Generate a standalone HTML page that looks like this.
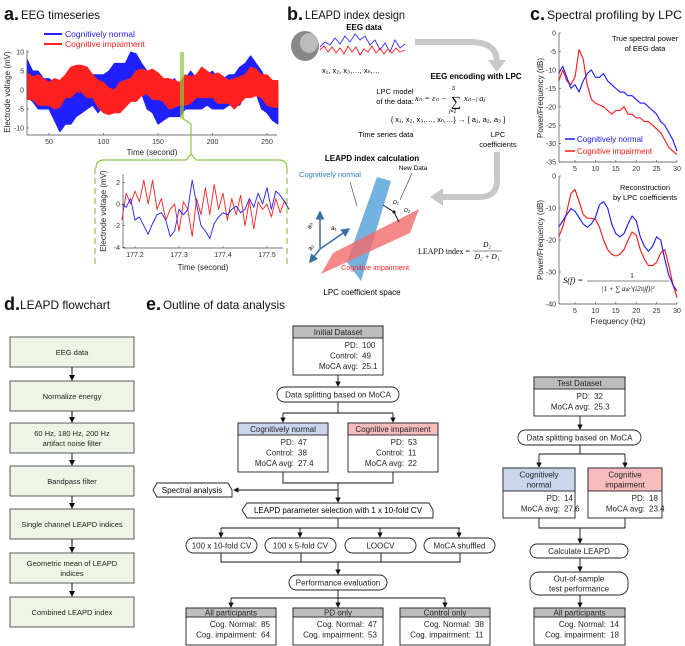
<!DOCTYPE html>
<html><head><meta charset="utf-8"><style>
html,body{margin:0;padding:0;background:#fff}
svg{display:block;font-family:"Liberation Sans",sans-serif}
.t{font-size:8px;fill:#222}
.tk{font-size:7px;fill:#333}
.ttl{font-size:18px;font-weight:bold;fill:#111}
.ttl2{font-size:12px;fill:#111}
</style></head><body>
<svg id="fig" width="685" height="646" viewBox="0 0 685 646" xmlns="http://www.w3.org/2000/svg">
<defs>
<marker id="ah" markerWidth="6" markerHeight="6" refX="5" refY="3" orient="auto"><path d="M0,0 L6,3 L0,6 z" fill="#111"/></marker>
<marker id="ahb" markerWidth="6" markerHeight="6" refX="5" refY="3" orient="auto"><path d="M0,0 L6,3 L0,6 z" fill="#3b6ea5"/></marker>
</defs>
<g>
<text x="4" y="20" class="ttl">a.</text>
<text x="21" y="19" class="ttl2" textLength="79" lengthAdjust="spacingAndGlyphs">EEG timeseries</text>
<text x="287" y="20" class="ttl">b.</text>
<text x="305" y="19" class="ttl2" textLength="100" lengthAdjust="spacingAndGlyphs">LEAPD index design</text>
<text x="530" y="20" class="ttl">c.</text>
<text x="547" y="19" class="ttl2" textLength="135" lengthAdjust="spacingAndGlyphs">Spectral profiling by LPC</text>
<text x="4" y="310" class="ttl">d.</text>
<text x="20" y="309" class="ttl2" textLength="90" lengthAdjust="spacingAndGlyphs">LEAPD flowchart</text>
<text x="146" y="310" class="ttl">e.</text>
<text x="163" y="309" class="ttl2" textLength="122" lengthAdjust="spacingAndGlyphs">Outline of data analysis</text>
</g>

<g>
<line x1="44" y1="34" x2="62" y2="34" stroke="#2020ff" stroke-width="2"/>
<text x="65" y="37" font-size="8.5" fill="#2020ff">Cognitively normal</text>
<line x1="44" y1="44" x2="62" y2="44" stroke="#ff2020" stroke-width="2"/>
<text x="65" y="47" font-size="8.5" fill="#ff2020">Cognitive impairment</text>
</g>
<g id="pa"></g>
<g id="pai"></g>
<g fill="none" stroke="#8cc63f" stroke-width="1.2">
<rect x="180" y="52" width="4" height="66" fill="#8cc63f" opacity="0.7" stroke="none"/>
<polyline points="182,118 191,124 191,154 186,160"/>
<path d="M96,168 Q96,160 104,160 L186,160 M191,154 L196,160 L279,160 Q287,160 287,168"/>
<line x1="95" y1="168" x2="95" y2="264" stroke-dasharray="6,4"/>
<line x1="287" y1="168" x2="287" y2="264" stroke-dasharray="6,4"/>
</g>

<g>
<ellipse cx="305" cy="46" rx="14" ry="15" fill="#888"/>
<ellipse cx="309" cy="43" rx="9" ry="10" fill="#bbb"/>
<text x="364" y="30" font-size="8" font-weight="bold" text-anchor="middle">EEG data</text>
<polyline fill="none" stroke="#3030ff" stroke-width="0.9" points="320,47 325,42 330,45 335,38 340,44 345,36 350,42 355,34 360,40 365,36 370,45 375,40 380,50 385,43 390,52 395,40 400,48 405,44"/>
<polyline fill="none" stroke="#ff2020" stroke-width="0.9" points="320,50 324,46 328,52 332,47 336,53 340,48 344,54 348,46 352,52 356,47 360,55 364,49 368,52 372,46 376,53 380,48 384,54 388,49 392,53 396,48 400,52 405,50"/>
<text x="322" y="73" font-size="7.5">x₁, x₂, x₃,…, xₙ,…</text>
<path d="M415,42 L470,42 Q497,42 497,62" fill="none" stroke="#c8c8c8" stroke-width="6"/>
<path d="M488,60 L506,60 L497,72 z" fill="#c8c8c8"/>
<text x="476" y="79" font-size="8" font-weight="bold" text-anchor="middle">EEG encoding with LPC</text>
<text x="395" y="94" font-size="7.5" text-anchor="middle">LPC model</text>
<text x="395" y="104" font-size="7.5" text-anchor="middle">of the data:</text>
<text x="415" y="101" font-size="8.5" font-family="Liberation Serif,serif" font-style="italic">xₙ = εₙ − </text>
<text x="451" y="106" font-size="14" font-family="Liberation Serif,serif">∑</text>
<text x="452" y="90" font-size="5.5">3</text>
<text x="449" y="113" font-size="5.5" font-style="italic">j=1</text>
<text x="464" y="101" font-size="8.5" font-family="Liberation Serif,serif" font-style="italic">xₙ₋ⱼ aⱼ</text>
<text x="448" y="122" font-size="7.5" text-anchor="middle">{ x₁, x₂, x₃,…, xₙ,…} → [ a₁, a₂, a₃ ]</text>
<text x="386" y="137" font-size="7.5" text-anchor="middle">Time series data</text>
<text x="498" y="137" font-size="7.5" text-anchor="middle">LPC</text>
<text x="498" y="147" font-size="7.5" text-anchor="middle">coefficients</text>
<path d="M497,152 L497,180 Q497,197 480,197 L440,197" fill="none" stroke="#c8c8c8" stroke-width="6"/>
<path d="M443,188 L443,206 L430,197 z" fill="#c8c8c8"/>
<text x="372" y="161" font-size="8" font-weight="bold" text-anchor="middle">LEAPD index calculation</text>
<text x="330" y="177" font-size="7" fill="#2a7fc1" text-anchor="middle" textLength="62" lengthAdjust="spacingAndGlyphs">Cognitively normal</text>
<text x="413" y="170" font-size="6.5" text-anchor="middle">New Data</text>
<line x1="350" y1="182" x2="357" y2="206" stroke="#333" stroke-width="0.6"/>
<line x1="412" y1="173" x2="400" y2="200" stroke="#333" stroke-width="0.6"/>
<polygon points="377,177 391,181 361,281 347,262" fill="#5ba3d9" opacity="0.85"/>
<polygon points="333,253 419,209 410,233 321,274" fill="#f26b6b" opacity="0.8"/>
<polyline points="383,205 394,212 399,222" fill="none" stroke="#111" stroke-width="0.9"/>
<circle cx="394" cy="212" r="1.5" fill="#111"/>
<text x="393" y="204" font-size="5.5" font-style="italic">D₁</text>
<text x="404" y="212" font-size="5.5" font-style="italic">D₂</text>
<line x1="320" y1="249" x2="320" y2="212" stroke="#3b6ea5" stroke-width="1.5" marker-end="url(#ahb)"/>
<line x1="320" y1="249" x2="349" y2="229" stroke="#3b6ea5" stroke-width="1.5" marker-end="url(#ahb)"/>
<line x1="320" y1="249" x2="310" y2="262" stroke="#3b6ea5" stroke-width="1.5" marker-end="url(#ahb)"/>
<text x="331" y="230" font-size="6.5">a₁</text>
<text x="311" y="229" font-size="6.5" transform="rotate(-80 311 229)">a₃</text>
<text x="311" y="251" font-size="6.5" transform="rotate(-60 311 251)">a₂</text>
<text x="418" y="254" font-size="8" font-family="Liberation Serif,serif">LEAPD index =</text>
<text x="487" y="247" font-size="7.5" font-family="Liberation Serif,serif" font-style="italic" text-anchor="middle">D₂</text>
<line x1="473" y1="251" x2="502" y2="251" stroke="#111" stroke-width="0.6"/>
<text x="487" y="259" font-size="7.5" font-family="Liberation Serif,serif" font-style="italic" text-anchor="middle">D₂ + D₁</text>
<text x="375" y="270" font-size="7" fill="#ff2020" text-anchor="middle" textLength="68" lengthAdjust="spacingAndGlyphs">Cognitive impairment</text>
<text x="362" y="295" font-size="8" text-anchor="middle">LPC coefficient space</text>
</g>

<g id="pc"></g>
<g>
<text x="645" y="41" font-size="7.5" text-anchor="middle">True spectral power</text>
<text x="645" y="51" font-size="7.5" text-anchor="middle">of EEG data</text>
<line x1="565" y1="139" x2="575" y2="139" stroke="#1515ff" stroke-width="1.5"/>
<text x="577" y="142" font-size="8" fill="#1515ff">Cognitively normal</text>
<line x1="565" y1="151" x2="575" y2="151" stroke="#ff1515" stroke-width="1.5"/>
<text x="577" y="154" font-size="8" fill="#ff1515">Cognitive impairment</text>
<text x="645" y="190" font-size="7.5" text-anchor="middle">Reconstruction</text>
<text x="645" y="200" font-size="7.5" text-anchor="middle">by LPC coefficients</text>
<text x="563" y="283" font-size="8.5" font-family="Liberation Serif,serif" font-style="italic">S(f) =</text>
<text x="632" y="278" font-size="7.5" font-family="Liberation Serif,serif" text-anchor="middle">1</text>
<line x1="587" y1="281" x2="669" y2="281" stroke="#111" stroke-width="0.6"/>
<text x="628" y="291" font-size="7" font-family="Liberation Serif,serif" font-style="italic" text-anchor="middle">|1 + ∑ aⱼe^(i2πjf)|²</text>
</g>

<g id="pd"></g>
<g id="pe"></g>
</svg>
<script>
// ===== Panel a data =====
const aTimes=[30,35,40,45,50,55,60,65,70,75,80,85,90,95,100,105,110,115,120,125,130,135,140,145,150,155,160,165,170,175,180,185,190,195,200,205,210,215,220,225,230,235,240,245,250,255,260];
const aBlue=[3,1,0,-1,-1,-3,-6,-5,-4,-3,-2,-1,0,-1,0,1,2,3,3,5,5,3,0,-2,-4,-4,-3,-2,-3,-1,0,-1,-1,0,0,-1,-1,0,0,1,3,4,3,0,-2,-3,-4];
const aRed=[1,0.5,0,-0.5,-1,-1,-1,1,2,3,3,2,1,-1,-2,-3,-3,-2,-1,0,1,2,2,1.5,1,0,-1,-1,-1,0,0,1,2,1.5,1,0.5,0,-0.5,-1,0,1,2,2,1,0,-1,-1];
const aBlueHalf=[5,4,5,4,4,5,5,4,5,4,4,4,4,5,4,4,5,4,4,5,4.5,4,5,4,5,4,4,5,4,4,5,4,4,4,5,4,4,4,4,5,4,5,4,5,4,5,5];
const aRedHalf=[3.5,3,4,3.5,3,4,3.5,3,4,3.5,3.5,4,3,3.5,4,3.5,3,4,3.5,3,4,3.5,3,4,3.5,3,4,3.5,3,4,3.5,3,4,3.5,3,4,3.5,3,4,3.5,3,4,3.5,3,4,3.5,3.5];
const aXTicks=[50,100,150,200,250];
const aYTicks=[10,5,0,-5,-10];
const iTimes=[177.17,177.18,177.19,177.20,177.21,177.22,177.23,177.24,177.25,177.26,177.27,177.28,177.29,177.30,177.31,177.32,177.33,177.34,177.35,177.36,177.37,177.38,177.39,177.40,177.41,177.42,177.43,177.44,177.45,177.46,177.47,177.48,177.49,177.50,177.51,177.52,177.53,177.54,177.55];
const iBlue=[0,-0.3,0.5,-1.5,-1.2,-2,-2.8,-1.8,-1,-0.8,-1.5,-3,-2.5,-0.5,-1,-0.5,2.2,0,-2,-2.5,-3.2,-1.8,-1.2,-0.8,-1,-0.5,-0.2,-0.8,-0.5,0.5,-0.3,1,0,1.5,-0.5,1.2,0.8,0.2,-0.5];
const iRed=[-1.5,1,0,1.2,0.2,2.2,0,2.2,-0.5,0.5,-1.5,-0.5,0,-2.5,0.2,-0.5,-3,0.5,-1,1.5,-1,1.8,-0.5,1,-1.5,0.5,-1,0.8,-2,0.3,-2.3,0.2,-0.5,0,-1.2,0.5,-0.8,0.3,-0.5];
const iXTicks=[177.2,177.3,177.4,177.5];
const iYTicks=[2,0,-2,-4];
// ===== Panel c data =====
const cFreq=[1,2,3,4,5,6,7,8,9,10,11,12,13,14,15,16,17,18,19,20,21,22,23,24,25,26,27,28,29,30];
const cTrueBlue=[-11,-9,-12,-15,-14,-16,-13,-11,-10,-12,-12,-11,-13,-14,-15,-16,-16,-17,-17,-18,-19,-19,-20,-21,-22,-24,-25,-27,-29,-32];
const cTrueRed=[-13,-10,-13,-14,-12,-4.5,-7,-14,-18,-19,-19.5,-20,-21,-22,-21,-21,-20,-22,-22,-23,-23,-24,-24,-25,-26,-27,-29,-31,-32,-33];
const cRecBlue=[-16,-14,-12,-10.2,-11,-13,-15,-16,-15,-13,-9,-8,-10,-15,-18,-19,-18,-15,-12.5,-14,-19,-22,-23.5,-22,-19,-20,-26,-31,-34,-36];
const cRecRed=[-19,-16,-11,-5.5,-4.2,-8,-12,-13.2,-13.2,-13.5,-16,-20,-23,-24.5,-25,-24.5,-23,-20,-17.5,-18.5,-23,-26,-28,-28,-27,-24,-23,-28,-34,-38];
const cXTicks=[5,10,15,20,25,30];
const cTopYTicks=[0,-5,-10,-15,-20,-25,-30,-35];
const cBotYTicks=[0,-10,-20,-30,-40];

const NS='http://www.w3.org/2000/svg';
function mk(parent,tag,attrs,txt){const e=document.createElementNS(NS,tag);for(const k in attrs)e.setAttribute(k,attrs[k]);if(txt!==undefined)e.textContent=txt;parent.appendChild(e);return e;}

const xa=t=>49+(t-50)*1.09, ya=v=>90-v*3.8;
const xi=t=>135+(t-177.2)*440, yi=v=>204-v*10.83;
const xc=f=>575+(f-5)*4.08, yt=v=>33-v*3.69, yb=v=>176-v*3.2;

function axes(g,x0,x1,y0,y1,xt,xf,yt_,yf,fmt){
  mk(g,'line',{x1:x0,y1:y1,x2:x1,y2:y1,stroke:'#444','stroke-width':0.7});
  mk(g,'line',{x1:x0,y1:y0,x2:x0,y2:y1,stroke:'#444','stroke-width':0.7});
  xt.forEach(v=>{const x=xf(v);mk(g,'line',{x1:x,y1:y1,x2:x,y2:y1-2,stroke:'#444','stroke-width':0.6});
    const t=mk(g,'text',{x:x,y:y1+9,class:'tk','text-anchor':'middle'},fmt?fmt(v):v);
    
    });
  yt_.forEach(v=>{const y=yf(v);mk(g,'line',{x1:x0,y1:y,x2:x0+2,y2:y,stroke:'#444','stroke-width':0.6});
    const t=mk(g,'text',{x:x0-3,y:y+2.5,class:'tk','text-anchor':'end'},v);
    
    });
}
function band(g,xs,c,h,xf,yf,col,name){
  let pts=xs.map((t,i)=>xf(t)+','+yf(c[i]+h[i]));
  for(let i=xs.length-1;i>=0;i--)pts.push(xf(xs[i])+','+yf(c[i]-h[i]));
  const p=mk(g,'polygon',{points:pts.join(' '),fill:col,stroke:col,'stroke-width':1,'stroke-linejoin':'bevel'});
  
  
}
function line(g,xs,ys,xf,yf,col,w,name){
  const p=mk(g,'polyline',{points:xs.map((x,i)=>xf(x)+','+yf(ys[i])).join(' '),fill:'none',stroke:col,'stroke-width':w,'stroke-linejoin':'round'});
  
  
}
const pa=document.getElementById('pa');
band(pa,aTimes,aBlue,aBlueHalf,xa,ya,'#2020ff','blue-eeg-band');
band(pa,aTimes,aRed,aRedHalf,xa,ya,'#ff2020','red-eeg-band');
axes(pa,27,277,50,135,aXTicks,xa,aYTicks,ya);
mk(pa,'text',{x:152,y:155,class:'t','text-anchor':'middle'},'Time (second)');
mk(pa,'text',{x:10,y:92,class:'t','text-anchor':'middle',transform:'rotate(-90 10 92)'},'Electrode voltage (mV)');
const pai=document.getElementById('pai');
line(pai,iTimes,iRed,xi,yi,'#ff2020',0.9,'red-inset-line');
line(pai,iTimes,iBlue,xi,yi,'#2020ff',0.9,'blue-inset-line');
axes(pai,123,283,174,248,iXTicks,xi,iYTicks,yi,v=>v.toFixed(1));
mk(pai,'text',{x:203,y:270,class:'t','text-anchor':'middle'},'Time (second)');
mk(pai,'text',{x:106,y:211,class:'t','text-anchor':'middle',transform:'rotate(-90 106 211)'},'Electrode voltage (mV)');
const pc=document.getElementById('pc');
line(pc,cFreq,cTrueRed,xc,yt,'#ff1515',1.1,'true-red-line');
line(pc,cFreq,cTrueBlue,xc,yt,'#1515ff',1.1,'true-blue-line');
axes(pc,559,677,33,162,cXTicks,xc,cTopYTicks,yt);
line(pc,cFreq,cRecRed,xc,yb,'#ff1515',1.1,'rec-red-line');
line(pc,cFreq,cRecBlue,xc,yb,'#1515ff',1.1,'rec-blue-line');
axes(pc,559,677,176,304,cXTicks,xc,cBotYTicks,yb);
mk(pc,'text',{x:618,y:324,class:'t','text-anchor':'middle'},'Frequency (Hz)');
mk(pc,'text',{x:543,y:98,class:'t','text-anchor':'middle',transform:'rotate(-90 543 98)'},'Power/Frequency (dB)');
mk(pc,'text',{x:543,y:240,class:'t','text-anchor':'middle',transform:'rotate(-90 543 240)'},'Power/Frequency (dB)');

const pd=document.getElementById('pd');
const dSteps=[['EEG data'],['Normalize energy'],['60 Hz, 180 Hz, 200 Hz','artifact noise filter'],['Bandpass filter'],['Single channel LEAPD indices'],['Geometric mean of LEAPD','indices'],['Combined LEAPD index']];
const dTops=[337,381,423,466,509,553,597];
dSteps.forEach((s,i)=>{
  const g=mk(pd,'g',{});
  
  
  const y=dTops[i],h=30;
  mk(g,'rect',{x:10,y:y,width:124,height:h,fill:'#eef5e6',stroke:'#333','stroke-width':0.8});
  s.forEach((l,j)=>mk(g,'text',{x:72,y:y+h/2+3-(s.length-1)*5+j*10,'font-size':7.5,'text-anchor':'middle',fill:'#222'},l));
  if(i<dSteps.length-1)mk(pd,'line',{x1:72,y1:y+h,x2:72,y2:dTops[i+1]-1,stroke:'#111','stroke-width':1,'marker-end':'url(#ah)'});
});

const pe=document.getElementById('pe');
function box(x,y,w,hh,bh,head,headFill,rows,lx,name){
  const g=mk(pe,'g',{});
  
  
  mk(g,'rect',{x:x,y:y,width:w,height:hh+bh,fill:'#fff',stroke:'#222','stroke-width':0.9});
  mk(g,'rect',{x:x,y:y,width:w,height:hh,fill:headFill,stroke:'#222','stroke-width':0.9});
  head.forEach((l,j)=>mk(g,'text',{x:x+w/2,y:y+hh/2+3-(head.length-1)*5+j*10,'font-size':8,'text-anchor':'middle',fill:'#222'},l));
  rows.forEach((r,j)=>{mk(g,'text',{x:x+lx,y:y+hh+10+j*10.5,'font-size':8,'text-anchor':'end',fill:'#222'},r[0]);
    mk(g,'text',{x:x+lx+4,y:y+hh+10+j*10.5,'font-size':8,fill:'#222'},r[1]);});
}
function pill(x,y,w,h,lines,name){
  const g=mk(pe,'g',{});
  
  
  mk(g,'rect',{x:x,y:y,width:w,height:h,rx:Math.min(9,h/2),fill:'#fff',stroke:'#222','stroke-width':0.9});
  lines.forEach((l,j)=>mk(g,'text',{x:x+w/2,y:y+h/2+3-(lines.length-1)*5+j*10,'font-size':8,'text-anchor':'middle',fill:'#222'},l));
}
function ln(pts,arrow){const a={points:pts,fill:'none',stroke:'#111','stroke-width':0.9};if(arrow)a['marker-end']='url(#ah)';mk(pe,'polyline',a);}
const G='#bdbdbd',B='#c9d6ee',R='#f7bcbc';
box(293,326,90,12,37,['Initial Dataset'],G,[['PD:','100'],['Control:','49'],['MoCA avg:','25.1']],65,'initial-dataset-box');
ln('338,375 338,386',1);
pill(277,387,122,15,['Data splitting based on MoCA'],'data-splitting-pill');
ln('338,402 338,413');ln('283,413 393,413');ln('283,413 283,422',1);ln('393,413 393,422',1);
box(238,423,90,12,37,['Cognitively normal'],B,[['PD:','47'],['Control:','38'],['MoCA avg:','27.4']],56,'cog-normal-box');
box(348,423,90,12,37,['Cognitive impairment'],R,[['PD:','53'],['Control:','11'],['MoCA avg:','22']],56,'cog-impairment-box');
ln('283,472 283,483 393,483 393,472');ln('338,483 338,502',1);ln('338,490 234,490',1);
{const g=mk(pe,'g',{});
mk(g,'polygon',{points:'157,483 228,483 232,490 232,497 157,497 153,490',fill:'#fff',stroke:'#222','stroke-width':0.9});
mk(g,'text',{x:192,y:493,'font-size':8,'text-anchor':'middle'},'Spectral analysis');}
{const g=mk(pe,'g',{});
mk(g,'polygon',{points:'247,503 429,503 433,510 433,518 247,518 242,510',fill:'#fff',stroke:'#222','stroke-width':0.9});
mk(g,'text',{x:338,y:513,'font-size':8,'text-anchor':'middle'},'LEAPD parameter selection with 1 x 10-fold CV');}
ln('338,518 338,528');ln('221,528 460,528');
const cvX=[186,265,345,424],cvL=['100 x 10-fold CV','100 x 5-fold CV','LOOCV','MoCA shuffled'];
cvX.forEach((x,i)=>{ln((x+35)+',528 '+(x+35)+',537',1);pill(x,538,71,15,[cvL[i]],'cv-method-pill');});
ln('221,553 221,562 460,562 460,553');ln('301,553 301,562');ln('381,553 381,562');ln('338,562 338,574',1);
pill(289,575,98,15,['Performance evaluation'],'performance-evaluation-pill');
ln('338,590 338,607',1);ln('231,598 445,598');ln('231,598 231,607',1);ln('445,598 445,607',1);
box(186,608,90,9,28,['All participants'],G,[['Cog. Normal:','85'],['Cog. impairment:','64']],71,'all-participants-box');
box(293,608,90,9,28,['PD only'],G,[['Cog. Normal:','47'],['Cog. impairment:','53']],71,'pd-only-box');
box(400,608,90,9,28,['Control only'],G,[['Cog. Normal:','38'],['Cog. impairment:','11']],71,'control-only-box');
box(534,377,91,12,27,['Test Dataset'],G,[['PD:','32'],['MoCA avg:','25.3']],56,'test-dataset-box');
ln('580,416 580,429',1);
pill(518,430,123,15,['Data splitting based on MoCA'],'test-splitting-pill');
ln('580,445 580,454');ln('539,454 625,454');ln('539,454 539,467',1);ln('625,454 625,467',1);
box(503,468,72,23,27,['Cognitively','normal'],B,[['PD:','14'],['MoCA avg:','27.6']],57,'test-normal-box');
box(588,468,74,23,27,['Cognitive','impairment'],R,[['PD:','18'],['MoCA avg:','23.4']],57,'test-impairment-box');
ln('539,518 539,528 625,528 625,518');ln('580,528 580,543',1);
pill(530,544,98,14,['Calculate LEAPD'],'calculate-leapd-pill');
ln('580,558 580,571',1);
pill(530,572,98,23,['Out-of-sample','test performance'],'out-of-sample-pill');
ln('580,595 580,607',1);
box(534,608,91,9,28,['All participants'],G,[['Cog. Normal:','14'],['Cog. impairment:','18']],72,'test-all-participants-box');
</script>
</body></html>
